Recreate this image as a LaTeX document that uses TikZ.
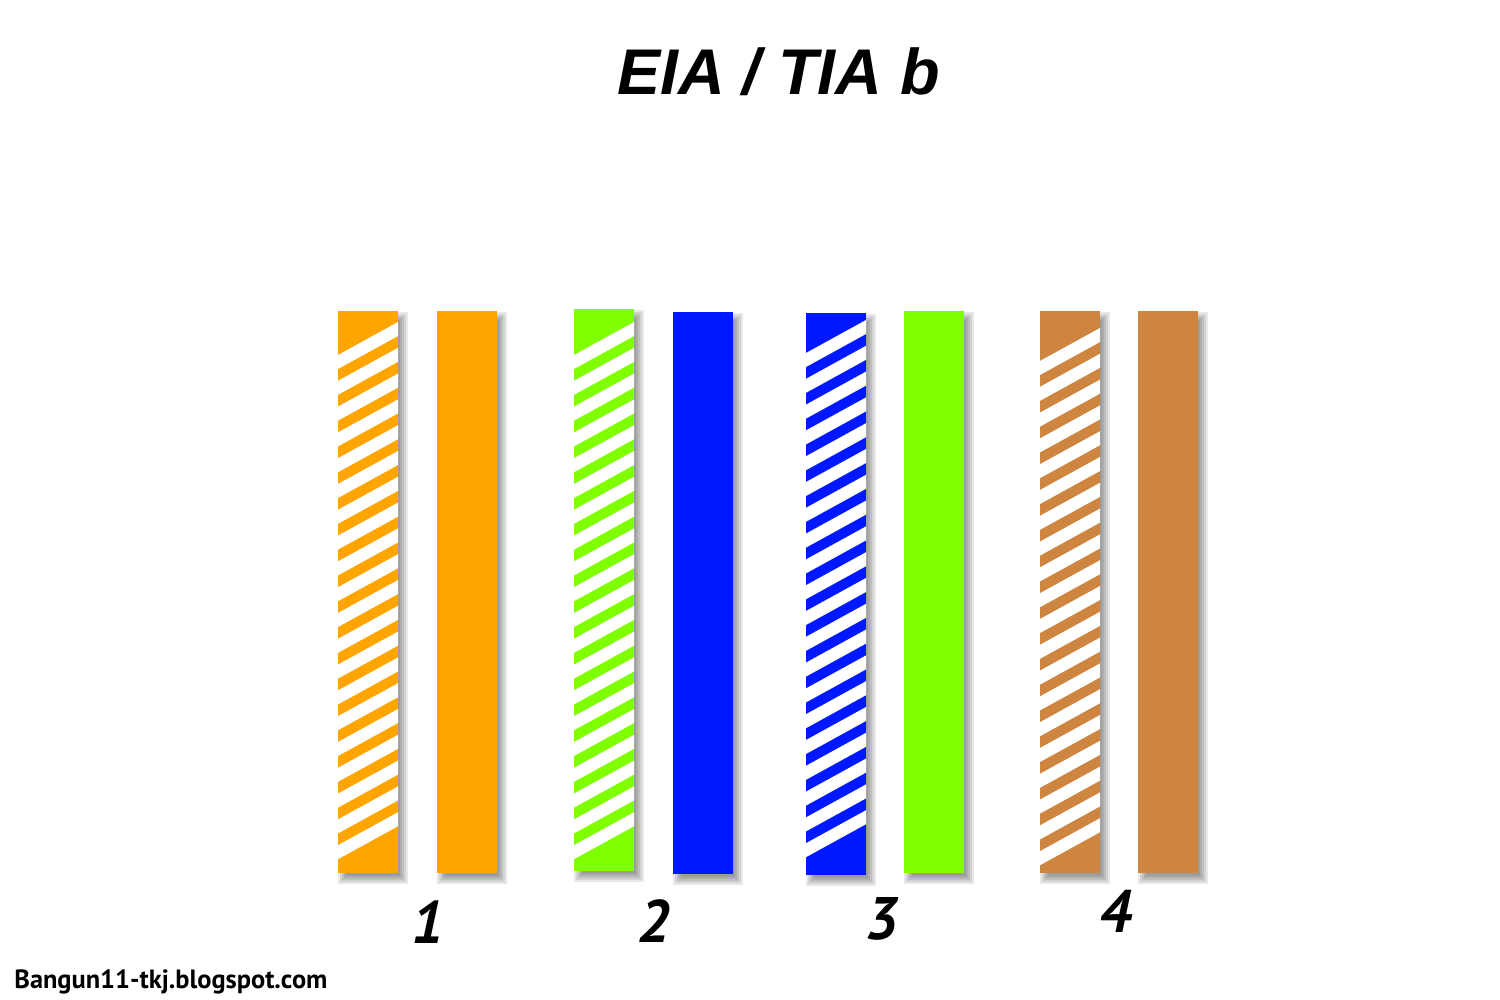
\documentclass[tikz,border=0pt]{standalone}
\usepackage{fontspec}
\newfontfamily\titlefont{Liberation Sans}
\newfontfamily\numfont{PT Sans}
\newfontfamily\footfont{PT Sans}
\definecolor{wOrange}{HTML}{FFA500}
\definecolor{wGreen}{HTML}{7FFF00}
\definecolor{wBlue}{HTML}{0018FF}
\definecolor{wBrown}{HTML}{CD853F}
\newcommand{\wireshadow}[2]{%
  \foreach \e in {-3,-1,1,3,5} {
    \fill[black,opacity=0.09] (#1+5-\e,#2+6-\e) rectangle (#1+65+\e,#2+568+\e);
  }}
\newcommand{\solidwire}[3]{%
  \wireshadow{#1}{#2}
  \fill[#3] (#1,#2) rectangle ++(60,562);}
\newcommand{\stripedwire}[4]{%
  \wireshadow{#1}{#2}
  \fill[#3] (#1,#2) rectangle ++(60,562);
  \begin{scope}
    \clip (#1,#2) rectangle ++(60,562);
    \foreach \i in {0,...,19} {
      \pgfmathsetmacro{\L}{#2+#4+\i*25.8}
      \fill[white] (#1,\L) -- (#1+60,\L-33) -- (#1+60,\L-19) -- (#1,\L+14) -- cycle;
    }
  \end{scope}}
\tikzset{
  numlabel/.style={anchor=base,inner sep=0pt,font=\numfont\bfseries\itshape\fontsize{30}{30}\selectfont},
}
\begin{document}
\begin{tikzpicture}[x=0.5pt,y=-0.5pt]
\fill[white] (0,0) rectangle (1500,1000);
\useasboundingbox (0,0) rectangle (1500,1000);

\stripedwire{338}{311}{wOrange}{44}
\solidwire{437}{311}{wOrange}
\stripedwire{574}{309}{wGreen}{46}
\solidwire{673}{312}{wBlue}
\stripedwire{806}{313}{wBlue}{40}
\solidwire{904}{311}{wGreen}
\stripedwire{1040}{311}{wBrown}{50}
\solidwire{1138}{311}{wBrown}

\node[anchor=base,inner sep=0pt] (title) at (778.5,95)
  {\resizebox{161.5pt}{!}{\titlefont\bfseries\itshape EIA / TIA b}};

\node[numlabel] (n1) at (428,943) {1};
\node[numlabel] (n2) at (654,942) {2};
\node[numlabel] (n3) at (882,939) {3};
\node[numlabel] (n4) at (1116,932) {4};

\node[anchor=base west,inner sep=0pt] (footer) at (14,988)
  {\resizebox{156.5pt}{!}{\footfont\bfseries Bangun11-tkj.blogspot.com}};
\end{tikzpicture}
\end{document}
